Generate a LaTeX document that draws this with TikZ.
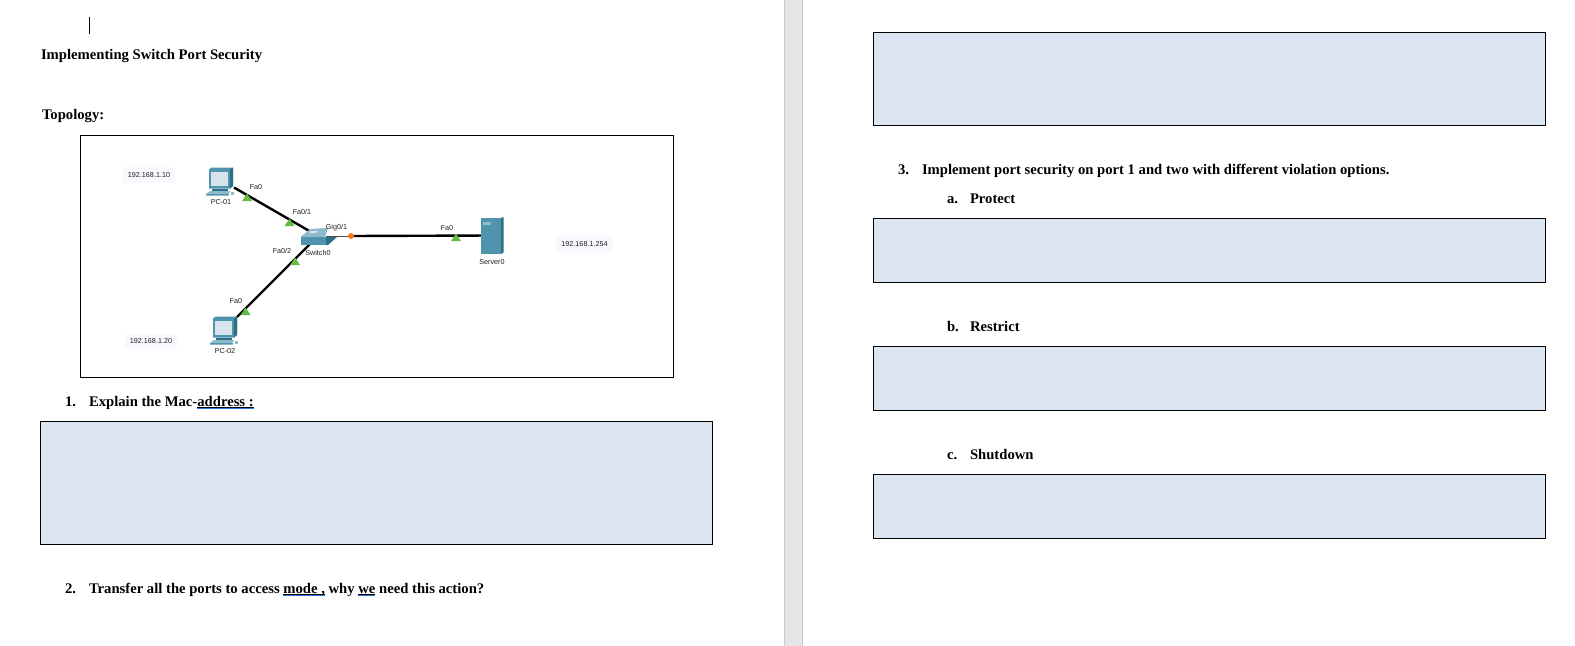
\documentclass[tikz,border=0pt]{standalone}
\usepackage{fontspec}
\setmainfont{Liberation Serif}
\newfontfamily\lblfont{Liberation Sans}
\definecolor{panel}{HTML}{DBE5F1}
\definecolor{band}{HTML}{E6E6E6}
\definecolor{bandedge}{HTML}{C8C8C8}
\definecolor{teal}{HTML}{4F93AC}
\definecolor{tealdark}{HTML}{2E6F86}
\definecolor{teallight}{HTML}{8DBBCB}
\definecolor{screen}{HTML}{D5E4EB}
\definecolor{portgreen}{HTML}{62BB46}
\definecolor{portorange}{HTML}{F47B20}
\definecolor{notebg}{HTML}{F8F9FE}
\definecolor{spell}{HTML}{2F74E0}
\newcommand{\wavy}[1]{\leavevmode\setbox0\hbox{#1}\rlap{\raisebox{-0.8pt}{\rule{\wd0}{0.4pt}}}\rlap{\textcolor{spell}{\raisebox{-2.0pt}{\rule{\wd0}{0.75pt}}}}\box0\relax}
\tikzset{
  x=0.75pt,y=-0.75pt,
  doc/.style={anchor=base west,inner sep=0pt,outer sep=0pt,font=\fontsize{11pt}{13pt}\selectfont\bfseries,text=black},
  answer/.style={draw=black,line width=0.75pt,fill=panel},
  lbl/.style={inner sep=0pt,font=\lblfont\fontsize{5.4pt}{6pt}\selectfont,text=black!88},
  note/.style={fill=notebg,inner sep=0pt,font=\lblfont\fontsize{5.4pt}{6pt}\selectfont,text=black!88},
  anchorbox/.style={inner sep=0pt,outer sep=0pt,minimum width=#1},
  link/.style={line width=1.8pt,black},
  portup/.style={fill=portgreen},
  pics/pcicon/.style={code={
    \fill[teal] (-12,-10.5) -- (-9.5,-12.5) -- (12,-12.5) -- (12,6) -- (9,8.5) -- (-12,8.5) -- cycle;
    \fill[tealdark] (9,-10.5) -- (12,-12.5) -- (12,6) -- (9,8.5) -- cycle;
    \fill[screen] (-10,-8.5) rectangle (7,5.5);
    \fill[tealdark] (-9,8.5) rectangle (7,11);
    \fill[teallight] (-11,11) -- (9,11) -- (8,13.5) -- (-14.5,13.5) -- cycle;
    \fill[teal] (-14.5,13.5) -- (8,13.5) -- (7.5,15.5) -- (-15,15.5) -- cycle;
    \fill[teallight] (10,12) rectangle (13,15);
  }},
}
\begin{document}
\begin{tikzpicture}
\useasboundingbox (0,0) rectangle (1575,646);
\fill[white] (0,0) rectangle (1575,646);
% gutter between pages
\fill[band] (784.5,0) rectangle (802.5,646);
\draw[bandedge,line width=0.9pt] (784.5,0) -- (784.5,646);
\draw[bandedge,line width=0.9pt] (802.5,0) -- (802.5,646);
% text cursor
\draw[black,line width=0.7pt] (89.5,17) -- (89.5,34);
% left page text
\node[doc] (title) at (41,60) {Implementing Switch Port Security};
\node[doc] (topo) at (42,119) {Topology:};
\node[doc] (n1) at (65,406) {1.};
\node[doc] (q1) at (89,406) {Explain the Mac-\wavy{address :}};
\node[doc] (n2) at (65,593) {2.};
\node[doc] (q2) at (89,593) {Transfer all the ports to access \wavy{mode ,} why \wavy{we} need this action?};
% answer boxes
\draw[answer] (40.5,421) rectangle (712.5,544);
\draw[answer] (873.5,32.5) rectangle (1545,125.5);
\draw[answer] (873.5,218.5) rectangle (1545,282);
\draw[answer] (873.5,346) rectangle (1545,410);
\draw[answer] (873.5,474) rectangle (1545,538);
% right page text
\node[doc] (n3) at (898,174) {3.};
\node[doc] (q3) at (922,174) {Implement port security on port 1 and two with different violation options.};
\node[doc] (na) at (947,203) {a.};
\node[doc] (qa) at (970,203) {Protect};
\node[doc] (nb) at (947,331) {b.};
\node[doc] (qb) at (970,331) {Restrict};
\node[doc] (nc) at (947,459) {c.};
\node[doc] (qc) at (970,459) {Shutdown};
% topology frame
\draw[black,line width=0.7pt,fill=white] (80.5,135) rectangle (673,377);
% device anchors
\node[anchorbox=19.5pt,minimum height=18pt] (pc1) at (221,180) {};
\node[anchorbox=19.5pt,minimum height=18pt] (pc2) at (225,329) {};
\node[anchorbox=12pt,minimum height=9pt] (sw) at (318,236) {};
\node[anchorbox=16pt,minimum height=27pt] (srv) at (492,235.5) {};
\coordinate (gig) at (351,236);
% links
\draw[link] (pc1) -- (sw);
\draw[link] (pc2) -- (sw);
\draw[black!70,line width=0.7pt] (sw) -- (gig);
\draw[link] (gig) -- (srv);
% devices
\pic at (pc1) {pcicon};
\pic at (pc2) {pcicon};
% switch
\fill[teallight] (300.5,237) -- (310,229) -- (328,228) -- (325,237) -- cycle;
\fill[teal] (300.5,237) -- (326,237) -- (326,245) -- (300.5,245) -- cycle;
\fill[tealdark] (326,237) -- (337,237) -- (328,245) -- (326,245) -- cycle;
\fill[screen] (311,231) -- (318,231) -- (316,233) -- (309,233) -- cycle;
% server
\fill[teal] (481,218) rectangle (501,254);
\fill[tealdark] (501,218) -- (503.5,217) -- (503.5,252.5) -- (501,254) -- cycle;
\fill[teallight] (483,222) rectangle (491,225);
% port markers
\fill[portup] (242,201) -- (247,193.5) -- (252,201) -- cycle;
\fill[portup] (284.5,226) -- (289.5,218.5) -- (294.5,226) -- cycle;
\fill[portup] (290,265) -- (295,257.5) -- (300,265) -- cycle;
\fill[portup] (240.5,315) -- (245.5,307.5) -- (250.5,315) -- cycle;
\fill[portup] (451,241) -- (456,233.5) -- (461,241) -- cycle;
\fill[portorange] (gig) circle (3);
% labels
\node[lbl] (lpc1) at (221,202) {PC-01};
\node[lbl] (lpc2) at (225,351) {PC-02};
\node[lbl] (lsw) at (318,253) {Switch0};
\node[lbl] (lsrv) at (492,262) {Server0};
\node[lbl] (f1) at (256,187) {Fa0};
\node[lbl] (f2) at (302,212) {Fa0/1};
\node[lbl] (f3) at (336.5,228) {Gig0/1};
\node[lbl] (f4) at (282,251) {Fa0/2};
\node[lbl] (f5) at (236,301) {Fa0};
\node[lbl] (f6) at (447,228) {Fa0};
% address notes
\node[note,minimum width=39pt,minimum height=12pt] (ip1) at (149,175) {192.168.1.10};
\node[note,minimum width=39pt,minimum height=11.5pt] (ip2) at (151,341.5) {192.168.1.20};
\node[note,minimum width=43pt,minimum height=12pt] (ip3) at (584.5,244) {192.168.1.254};
\end{tikzpicture}
\end{document}
